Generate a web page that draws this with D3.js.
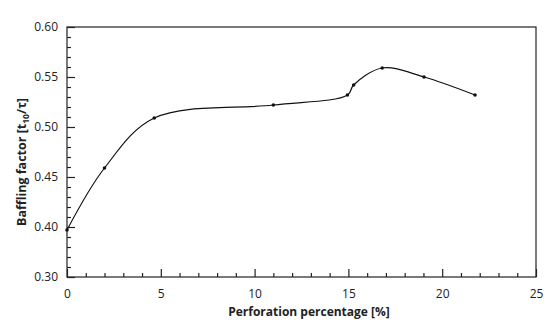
<!DOCTYPE html>
<html>
<head>
<meta charset="utf-8">
<script src="https://cdn.jsdelivr.net/npm/d3@7"></script>
<style>
  body { margin: 0; background: #fff; }
  text { font-family: "Open Sans", "Noto Sans", sans-serif; fill: #222; }
</style>
</head>
<body>
<svg id="chart" width="550" height="325"></svg>
<script>
// DATA
var perforation = [0, 2, 4.65, 11.0, 14.95, 15.28, 16.8, 19.03, 21.75];
var baffling    = [0.397, 0.459, 0.509, 0.522, 0.532, 0.542, 0.559, 0.550, 0.532];

var xTicks = [0, 5, 10, 15, 20, 25];
var yTickValues = [0.35, 0.40, 0.45, 0.50, 0.55, 0.60];
var yTickLabels = ['0.30', '0.40', '0.45', '0.50', '0.55', '0.60'];

var points = perforation.map(function(x, i) { return { x: x, y: baffling[i] }; });

var svg = d3.select('#chart');
var plotLeft = 67, plotRight = 536, plotTop = 27, plotBottom = 277;

var xScale = d3.scaleLinear().domain([0, 25]).range([plotLeft, plotRight]);
var yScale = d3.scaleLinear().domain([0.35, 0.60]).range([plotBottom, plotTop]);

// FRAME
svg.append('rect')
  .attr('x', plotLeft).attr('y', plotTop)
  .attr('width', plotRight - plotLeft).attr('height', plotBottom - plotTop)
  .attr('fill', 'none').attr('stroke', '#222').attr('stroke-width', 1.2);

// MINOR TICKS (inward)
var xMinor = d3.range(0, 26, 1).filter(function(d) { return d % 5 !== 0; });
var yMinor = d3.range(35, 61, 1).map(function(d) { return d / 100; })
  .filter(function(d) { return Math.round(d * 100) % 5 !== 0; });

var xAxis = d3.axisBottom(xScale).tickValues(xTicks).tickSizeInner(-8).tickSizeOuter(0)
  .tickPadding(12).tickFormat(d3.format('d'));
var xAxisMinor = d3.axisBottom(xScale).tickValues(xMinor).tickSizeInner(-4).tickSizeOuter(0)
  .tickFormat('');
var yAxis = d3.axisLeft(yScale).tickValues(yTickValues).tickSizeInner(-8).tickSizeOuter(0)
  .tickPadding(9).tickFormat(function(d, i) { return yTickLabels[i]; });
var yAxisMinor = d3.axisLeft(yScale).tickValues(yMinor).tickSizeInner(-4).tickSizeOuter(0)
  .tickFormat('');

[xAxisMinor, xAxis].forEach(function(ax) {
  var g = svg.append('g').attr('transform', 'translate(0,' + plotBottom + ')').call(ax);
  g.select('.domain').remove();
  g.selectAll('line').attr('stroke', '#222').attr('stroke-width', 1.2);
  g.selectAll('text').attr('font-size', '12px').attr('fill', '#222');
});
[yAxisMinor, yAxis].forEach(function(ax) {
  var g = svg.append('g').attr('transform', 'translate(' + plotLeft + ',0)').call(ax);
  g.select('.domain').remove();
  g.selectAll('line').attr('stroke', '#222').attr('stroke-width', 1.2);
  g.selectAll('text').attr('font-size', '12px').attr('fill', '#222');
});

// CURVE
var line = d3.line()
  .x(function(d) { return xScale(d.x); })
  .y(function(d) { return yScale(d.y); })
  .curve(d3.curveCatmullRom.alpha(0.5));

svg.append('path')
  .datum(points)
  .attr('d', line)
  .attr('fill', 'none')
  .attr('stroke', '#111')
  .attr('stroke-width', 1.2);

svg.selectAll('.pt')
  .data(points)
  .enter().append('circle')
  .attr('class', 'pt')
  .attr('cx', function(d) { return xScale(d.x); })
  .attr('cy', function(d) { return yScale(d.y); })
  .attr('r', 1.8)
  .attr('fill', '#111');

// LABELS
svg.append('text')
  .attr('x', 309).attr('y', 316)
  .attr('text-anchor', 'middle')
  .attr('font-size', '12px').attr('font-weight', 'bold')
  .text('Perforation percentage [%]');

var yl = svg.append('text')
  .attr('transform', 'translate(26,162) rotate(-90)')
  .attr('text-anchor', 'middle')
  .attr('font-size', '12.5px').attr('font-weight', 'bold');
yl.append('tspan').text('Baffling factor [t');
yl.append('tspan').attr('font-size', '8.5px').attr('dy', 3).text('10');
yl.append('tspan').attr('dy', -3).text('/τ]');
</script>
</body>
</html>
